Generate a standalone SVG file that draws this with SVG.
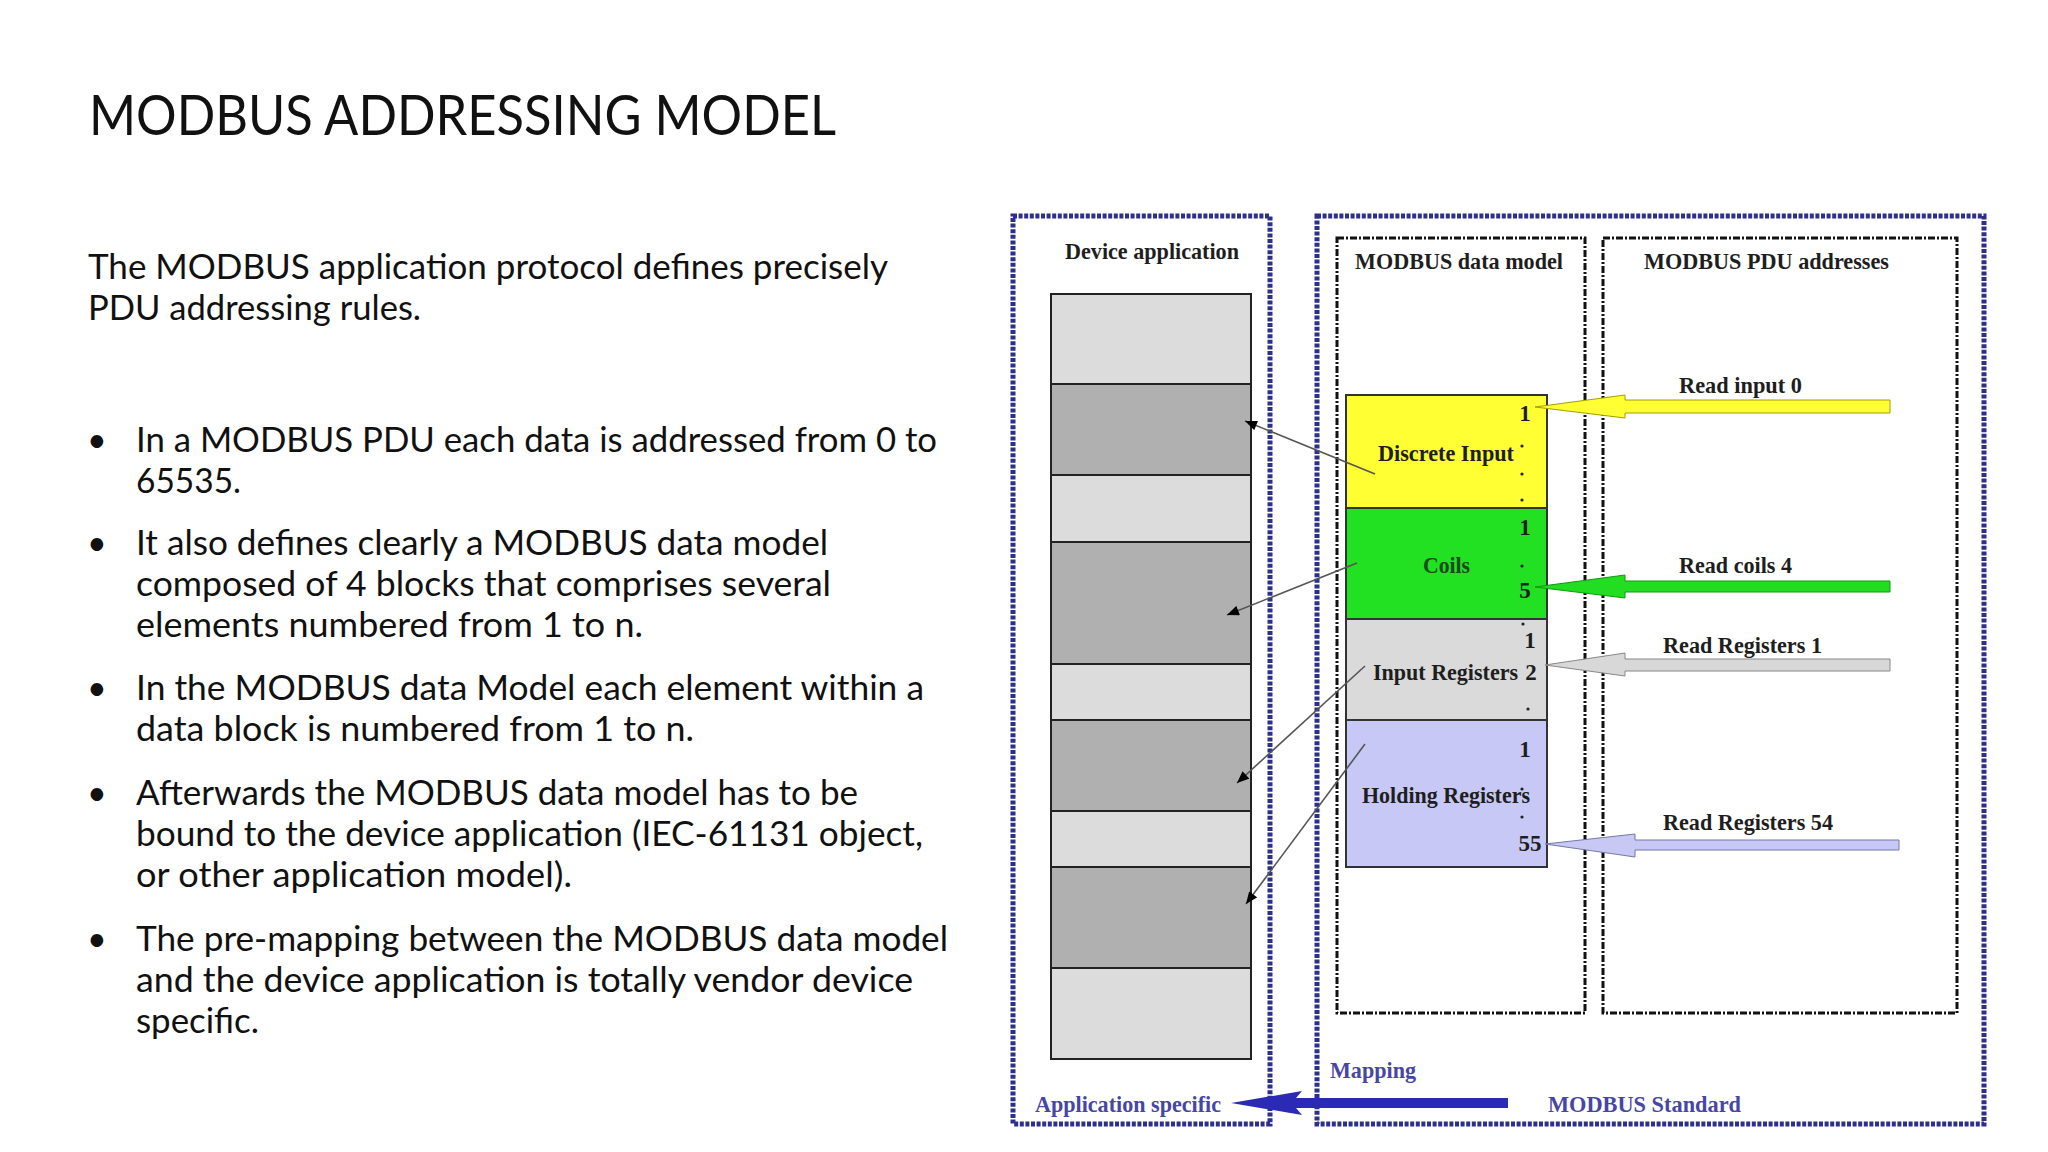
<svg xmlns="http://www.w3.org/2000/svg" width="2048" height="1152" viewBox="0 0 2048 1152">
<defs>
<style>
.body{font-family:Lato,"Open Sans","Liberation Sans",sans-serif;font-size:34px;fill:#111}
.title{font-family:Lato,"Open Sans","Liberation Sans",sans-serif;font-size:56px;fill:#111}
.lbl{font-family:"Liberation Serif","Times New Roman",serif;font-size:23px;font-weight:bold;fill:#1e1e1e}
.blue{fill:#4646a6}
.bframe{fill:none;stroke:#2e2e8c;stroke-width:5;stroke-dasharray:4 1.6}
.kframe{fill:none;stroke:#111;stroke-width:3;stroke-dasharray:7 2 2 2}
.lt{fill:#dcdcdc;stroke:#222;stroke-width:2}
.dk{fill:#b0b0b0;stroke:#222;stroke-width:2}
.blk{stroke:#333;stroke-width:2}
.map{stroke:#555;stroke-width:1.6;fill:none;marker-end:url(#ah)}
.dot{fill:#222}
</style>
<marker id="ah" viewBox="0 0 12 10" refX="12" refY="5" markerWidth="13" markerHeight="10" markerUnits="userSpaceOnUse" orient="auto">
<path d="M0,0 L12,5 L0,10 z" fill="#000"/>
</marker>
</defs>
<rect width="2048" height="1152" fill="#fff"/>

<g id="text-panel">
<text class="title" x="89" y="135" textLength="747" lengthAdjust="spacingAndGlyphs">MODBUS ADDRESSING MODEL</text>
<text class="body" x="88" y="279" textLength="800" lengthAdjust="spacingAndGlyphs">The MODBUS application protocol defines precisely</text>
<text class="body" x="88" y="320" textLength="333" lengthAdjust="spacingAndGlyphs">PDU addressing rules.</text>
<g>
<text class="body" x="87" y="452">•</text>
<text class="body" x="136" y="452" textLength="801" lengthAdjust="spacingAndGlyphs">In a MODBUS PDU each data is addressed from 0 to</text>
<text class="body" x="136" y="493" textLength="105" lengthAdjust="spacingAndGlyphs">65535.</text>
</g>
<g>
<text class="body" x="87" y="555">•</text>
<text class="body" x="136" y="555" textLength="692" lengthAdjust="spacingAndGlyphs">It also defines clearly a MODBUS data model</text>
<text class="body" x="136" y="596" textLength="695" lengthAdjust="spacingAndGlyphs">composed of 4 blocks that comprises several</text>
<text class="body" x="136" y="637" textLength="507" lengthAdjust="spacingAndGlyphs">elements numbered from 1 to n.</text>
</g>
<g>
<text class="body" x="87" y="700">•</text>
<text class="body" x="136" y="700" textLength="788" lengthAdjust="spacingAndGlyphs">In the MODBUS data Model each element within a</text>
<text class="body" x="136" y="741" textLength="558" lengthAdjust="spacingAndGlyphs">data block is numbered from 1 to n.</text>
</g>
<g>
<text class="body" x="87" y="805">•</text>
<text class="body" x="136" y="805" textLength="722" lengthAdjust="spacingAndGlyphs">Afterwards the MODBUS data model has to be</text>
<text class="body" x="136" y="846" textLength="787" lengthAdjust="spacingAndGlyphs">bound to the device application (IEC-61131 object,</text>
<text class="body" x="136" y="887" textLength="436" lengthAdjust="spacingAndGlyphs">or other application model).</text>
</g>
<g>
<text class="body" x="87" y="951">•</text>
<text class="body" x="136" y="951" textLength="812" lengthAdjust="spacingAndGlyphs">The pre-mapping between the MODBUS data model</text>
<text class="body" x="136" y="992" textLength="777" lengthAdjust="spacingAndGlyphs">and the device application is totally vendor device</text>
<text class="body" x="136" y="1033" textLength="123" lengthAdjust="spacingAndGlyphs">specific.</text>
</g>
</g>

<g id="application-specific">
<rect class="bframe" x="1013" y="216" width="257" height="908"/>
<text class="lbl" x="1065" y="259" textLength="174" lengthAdjust="spacingAndGlyphs">Device application</text>
<text class="lbl blue" x="1035" y="1112" textLength="186" lengthAdjust="spacingAndGlyphs">Application specific</text>
</g>

<g id="device-application">
<rect class="lt" x="1051" y="294" width="200" height="90"/>
<rect class="dk" x="1051" y="384" width="200" height="91"/>
<rect class="lt" x="1051" y="475" width="200" height="67"/>
<rect class="dk" x="1051" y="542" width="200" height="122"/>
<rect class="lt" x="1051" y="664" width="200" height="56"/>
<rect class="dk" x="1051" y="720" width="200" height="91"/>
<rect class="lt" x="1051" y="811" width="200" height="56"/>
<rect class="dk" x="1051" y="867" width="200" height="101"/>
<rect class="lt" x="1051" y="968" width="200" height="91"/>
</g>

<g id="modbus-standard">
<rect class="bframe" x="1317" y="216" width="667" height="908"/>
<text class="lbl blue" x="1330" y="1078" textLength="86" lengthAdjust="spacingAndGlyphs">Mapping</text>
<text class="lbl blue" x="1548" y="1112" textLength="193" lengthAdjust="spacingAndGlyphs">MODBUS Standard</text>
</g>

<g id="modbus-data-model">
<rect class="kframe" x="1337" y="238" width="248" height="775"/>
<text class="lbl" x="1355" y="269" textLength="208" lengthAdjust="spacingAndGlyphs">MODBUS data model</text>
</g>

<g id="modbus-pdu-addresses">
<rect class="kframe" x="1603" y="238" width="354" height="775"/>
<text class="lbl" x="1644" y="269" textLength="245" lengthAdjust="spacingAndGlyphs">MODBUS PDU addresses</text>
</g>

<g id="discrete-input">
<rect class="blk" x="1346" y="395" width="201" height="113" fill="#ffff33"/>
<text class="lbl" x="1378" y="461" textLength="136" lengthAdjust="spacingAndGlyphs">Discrete Input</text>
<text class="lbl" x="1525" y="421" text-anchor="middle">1</text>
<circle class="dot" cx="1522" cy="446" r="1.6"/>
<circle class="dot" cx="1522" cy="474" r="1.6"/>
<circle class="dot" cx="1522" cy="500" r="1.6"/>
</g>

<g id="coils">
<rect class="blk" x="1346" y="508" width="201" height="111" fill="#22e022"/>
<text class="lbl" x="1423" y="573" textLength="47" lengthAdjust="spacingAndGlyphs" style="fill:#1c4a1c">Coils</text>
<text class="lbl" x="1525" y="535" text-anchor="middle">1</text>
<circle class="dot" cx="1522" cy="566" r="1.6"/>
<text class="lbl" x="1525" y="598" text-anchor="middle">5</text>
</g>

<g id="input-registers">
<rect class="blk" x="1346" y="619" width="201" height="101" fill="#dadada"/>
<circle class="dot" cx="1523" cy="624" r="1.6"/>
<text class="lbl" x="1530" y="648" text-anchor="middle">1</text>
<text class="lbl" x="1373" y="680" textLength="145" lengthAdjust="spacingAndGlyphs">Input Registers</text>
<text class="lbl" x="1531" y="680" text-anchor="middle">2</text>
<circle class="dot" cx="1528" cy="709" r="1.6"/>
</g>

<g id="holding-registers">
<rect class="blk" x="1346" y="720" width="201" height="147" fill="#c8c8f6"/>
<text class="lbl" x="1525" y="757" text-anchor="middle">1</text>
<text class="lbl" x="1362" y="803" textLength="168" lengthAdjust="spacingAndGlyphs">Holding Registers</text>
<circle class="dot" cx="1522" cy="789" r="1.6"/>
<circle class="dot" cx="1522" cy="817" r="1.6"/>
<text class="lbl" x="1530" y="851" text-anchor="middle">55</text>
</g>

<g id="connectors">
<line class="map" x1="1375" y1="474" x2="1245" y2="421"/>
<line class="map" x1="1357" y1="563" x2="1227" y2="615"/>
<line class="map" x1="1365" y1="666" x2="1237" y2="783"/>
<line class="map" x1="1365" y1="744" x2="1246" y2="904"/>

<polygon points="1535,407 1625,395 1625,400 1890,400 1890,413 1625,413 1625,418" fill="#ffff33" stroke="#a0a000" stroke-width="1"/>
<text class="lbl" x="1679" y="393" textLength="123" lengthAdjust="spacingAndGlyphs">Read input 0</text>

<polygon points="1535,587 1625,575 1625,581 1890,581 1890,592 1625,592 1625,598" fill="#22dd22" stroke="#119911" stroke-width="1"/>
<text class="lbl" x="1679" y="573" textLength="113" lengthAdjust="spacingAndGlyphs">Read coils 4</text>

<polygon points="1545,665 1625,653 1625,659 1890,659 1890,671 1625,671 1625,676" fill="#d8d8d8" stroke="#888" stroke-width="1"/>
<text class="lbl" x="1663" y="653" textLength="159" lengthAdjust="spacingAndGlyphs">Read Registers 1</text>

<polygon points="1545,844 1635,834 1635,840 1899,840 1899,850 1635,850 1635,857" fill="#c8c8f5" stroke="#7777aa" stroke-width="1"/>
<text class="lbl" x="1663" y="830" textLength="170" lengthAdjust="spacingAndGlyphs">Read Registers 54</text>

<polygon points="1231,1103 1302,1091 1296,1098 1508,1098 1508,1108 1296,1108 1302,1115" fill="#2a2ab4"/>
</g>
</svg>
